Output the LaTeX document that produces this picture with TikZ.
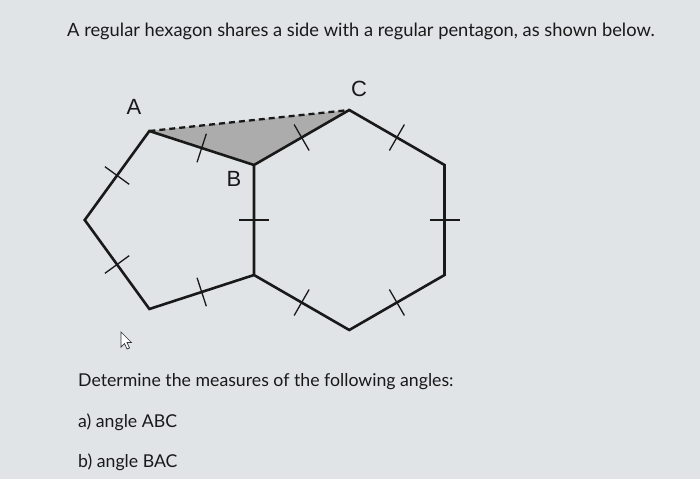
\documentclass[tikz,border=0pt]{standalone}
\usepackage{fontspec}
\setmainfont{Lato}
\newfontfamily\labelfont{Liberation Sans}
\usetikzlibrary{calc}
\definecolor{bgc}{RGB}{224,228,230}
\definecolor{gfill}{RGB}{172,172,172}
\definecolor{ink}{RGB}{25,25,25}
\tikzset{
  edge/.style={draw=ink, line width=2.6pt, line join=miter},
  tickmark/.style={draw=ink, line width=1.3pt},
  dashline/.style={draw=ink, line width=2.3pt, dash pattern=on 6pt off 4pt},
  ptlabel/.style={font=\labelfont\fontsize{22}{24}\selectfont, text=ink, inner sep=0pt},
  para/.style={font=\fontsize{17.7}{20}\selectfont, text=ink, anchor=base west, inner sep=0pt},
}
\begin{document}
\begin{tikzpicture}[x=1pt,y=1pt]
\fill[bgc] (0,-479) rectangle (700,0);
\useasboundingbox (0,-479) rectangle (700,0);
% shared side
\coordinate (B) at (254,-165);
\coordinate (D) at (254,-275);
% pentagon
\coordinate (A) at ($(B)+(162:110)$);
\coordinate (L) at ($(A)+(234:110)$);
\coordinate (P) at ($(L)+(306:110)$);
% hexagon
\coordinate (C) at ($(B)+(30:110)$);
\coordinate (E) at ($(C)+(-30:110)$);
\coordinate (F) at ($(E)+(-90:110)$);
\coordinate (G) at ($(F)+(-150:110)$);
% shaded triangle
\fill[gfill] (A) -- (B) -- (C) -- cycle;
\draw[dashline] (A) -- (C);
\draw[edge] (B) -- (A) -- (L) -- (P) -- (D) -- (B) -- (C) -- (E) -- (F) -- (G) -- (D);
% tick marks
\foreach \p/\q in {A/B, A/L, L/P, P/D, B/D, B/C, C/E, E/F, F/G, G/D}
  \draw[tickmark] ($(\p)!0.5!(\q)!15pt!90:(\q)$) -- ($(\p)!0.5!(\q)!15pt!-90:(\q)$);
% labels
\node[ptlabel] (lA) at (134,-107) {A};
\node[ptlabel] (lB) at (234,-179) {B};
\node[ptlabel] (lC) at (359,-89) {C};
% cursor
\draw[line width=0.7pt, draw=black!80, fill=white] (121,-332) -- (121,-347) -- (124.5,-343.5) -- (127,-349) -- (129.5,-348) -- (127,-342.5) -- (131.5,-342.5) -- cycle;
% texts
\node[para, font=\fontsize{18.3}{21}\selectfont] (title) at (67,-36) {A regular hexagon shares a side with a regular pentagon, as shown below.};
\node[para] (q) at (78,-386) {Determine the measures of the following angles:};
\node[para] (qa) at (78,-427) {a) angle ABC};
\node[para] (qb) at (78,-467) {b) angle BAC};
\end{tikzpicture}
\end{document}
